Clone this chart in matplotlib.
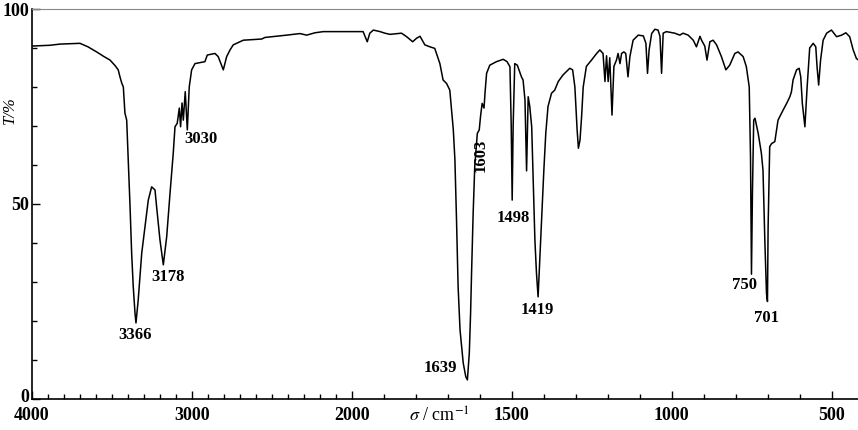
import numpy as np
import matplotlib
matplotlib.use("Agg")
import matplotlib.pyplot as plt
import matplotlib.transforms as mtransforms
from matplotlib.ticker import FixedLocator, MultipleLocator

plt.rcParams['font.family'] = ['Liberation Serif', 'DejaVu Serif']
plt.rcParams['mathtext.fontset'] = 'stix'

# wavenumber (cm-1) and transmittance (%)
wavenumber = [
    4000, 3887, 3825, 3762, 3700, 3650, 3596, 3550, 3512, 3481, 3461, 3450,
    3439, 3429, 3419, 3408, 3398, 3387, 3377, 3367, 3356, 3350, 3336, 3314,
    3294, 3273, 3252, 3231, 3221, 3200, 3179, 3158, 3137, 3117, 3106, 3092,
    3079, 3071, 3062, 3054, 3042, 3029, 3017, 3002, 2981, 2919, 2904, 2856,
    2836, 2804, 2783, 2762, 2742, 2679, 2564, 2544, 2408, 2325, 2283, 2231,
    2179, 2000, 1965, 1952, 1944, 1933, 1912, 1897, 1881, 1845, 1829, 1810,
    1798, 1787, 1772, 1756, 1741, 1725, 1715, 1704, 1694, 1683, 1678, 1673,
    1668, 1662, 1652, 1644, 1639, 1633, 1629, 1626, 1621, 1616, 1608, 1602,
    1598, 1593, 1587, 1584, 1579, 1569, 1548, 1527, 1515, 1506, 1502, 1499,
    1496, 1491, 1483, 1470, 1465, 1459, 1454, 1449, 1444, 1438, 1428, 1423,
    1418, 1407, 1400, 1394, 1387, 1376, 1366, 1355, 1340, 1319, 1310, 1303,
    1296, 1292, 1287, 1282, 1277, 1267, 1251, 1235, 1225, 1215, 1209, 1204,
    1199, 1194, 1187, 1181, 1173, 1168, 1162, 1157, 1150, 1144, 1137, 1131,
    1121, 1105, 1089, 1081, 1076, 1071, 1063, 1053, 1043, 1037, 1032, 1027,
    1017, 991, 975, 965, 949, 933, 923, 912, 907, 897, 890, 881,
    871, 860, 845, 831, 819, 803, 793, 777, 767, 758, 754, 751,
    748, 744, 740, 730, 720, 715, 709, 704, 701, 699, 694, 688,
    678, 668, 652, 641, 631, 626, 621, 610, 602, 597, 592, 584,
    577, 569, 558, 550, 546, 541, 535, 527, 516, 501, 485, 469,
    456, 444, 433, 423, 418,
]
transmittance = [
    90.5, 90.7, 91.0, 91.1, 91.2, 90.3, 89.0, 87.8, 86.9, 85.5, 84.4, 82.6,
    81.0, 80.0, 73.3, 71.5, 61.0, 49.3, 37.4, 28.8, 22.0, 19.5, 25.4, 37.4,
    44.0, 51.0, 54.4, 53.6, 49.3, 40.8, 34.4, 41.6, 52.8, 63.0, 69.8, 70.7,
    74.6, 69.8, 75.9, 71.5, 78.8, 69.0, 80.0, 84.4, 86.0, 86.5, 88.2, 88.6,
    87.8, 84.4, 87.8, 89.5, 90.8, 92.0, 92.3, 92.7, 93.3, 93.7, 93.3, 93.9,
    94.2, 94.2, 94.2, 91.6, 93.8, 94.6, 94.2, 93.8, 93.5, 93.8, 92.9, 91.6,
    92.5, 93.0, 90.8, 90.3, 89.9, 86.0, 81.8, 80.9, 79.2, 69.0, 61.3, 45.9,
    28.8, 17.7, 9.2, 5.7, 4.9, 11.8, 22.0, 32.2, 47.6, 59.6, 68.1, 69.0,
    72.4, 75.8, 74.6, 78.4, 83.5, 85.6, 86.5, 87.1, 86.5, 85.2, 70.0, 51.0,
    70.0, 86.0, 85.6, 82.6, 81.8, 76.7, 58.5, 77.5, 75.0, 69.8, 40.8, 32.2,
    26.2, 45.9, 58.7, 68.1, 75.0, 78.4, 79.2, 81.4, 83.1, 84.8, 84.4, 80.0,
    69.0, 64.3, 66.4, 72.4, 80.0, 85.3, 86.9, 88.6, 89.5, 88.6, 81.4, 88.0,
    81.4, 87.5, 72.8, 85.3, 86.9, 88.6, 86.0, 88.6, 89.0, 88.6, 82.6, 87.8,
    92.0, 93.3, 93.1, 91.2, 83.5, 89.5, 93.7, 94.8, 94.6, 93.0, 83.5, 93.8,
    94.2, 93.8, 93.3, 93.8, 93.3, 92.0, 90.3, 93.0, 92.0, 90.5, 86.9, 91.6,
    92.0, 90.8, 87.8, 84.4, 85.6, 88.6, 89.0, 87.8, 85.2, 80.0, 62.0, 32.0,
    52.8, 71.5, 72.0, 68.1, 63.0, 58.7, 40.0, 27.0, 25.0, 44.0, 64.7, 65.5,
    66.0, 71.5, 74.1, 75.8, 77.5, 78.8, 81.8, 84.4, 84.8, 82.6, 75.8, 69.8,
    80.0, 90.0, 91.2, 90.3, 85.2, 80.5, 86.9, 92.0, 93.8, 94.6, 92.9, 93.3,
    93.9, 92.9, 89.5, 87.3, 87.0,
]

# peak labels: text, x, y, rotation
peak_text = ["3366", "3178", "3030", "1603", "1639", "1498", "1419", "750", "701"]
peak_x = [3356, 3150, 2944, 1597, 1725, 1497, 1419, 772, 703]
peak_y = [16.4, 31.3, 66.7, 62.6, 7.9, 46.4, 22.8, 29.2, 20.8]
peak_rot = [0, 0, 0, 90, 0, 0, 0, 0, 0]


def fwd(x):
    x = np.asarray(x, dtype=float)
    return np.where(x > 2000, 2000 + (x - 2000) / 2.0, x)


def inv(v):
    v = np.asarray(v, dtype=float)
    return np.where(v > 2000, 2000 + (v - 2000) * 2.0, v)


fig = plt.figure(figsize=(8.58, 4.30), dpi=100)
ax = fig.add_axes([32 / 858, 31 / 430, 1 - 32 / 858, 390 / 430])
ax.set_xscale('function', functions=(fwd, inv))

ax.plot(wavenumber, transmittance, color='black', lw=1.1)

ax.set_xlim(4000, 418)
ax.set_ylim(0, 100)

ax.xaxis.set_major_locator(FixedLocator([4000, 3000, 2000, 1500, 1000, 500]))
ax.xaxis.set_minor_locator(FixedLocator(list(range(3900, 400, -100))))
ax.yaxis.set_major_locator(FixedLocator([0, 50, 100]))
ax.yaxis.set_minor_locator(MultipleLocator(10))

ax.tick_params(which='both', direction='in', width=1.0, top=False, right=False)
ax.tick_params(which='major', length=6, labelsize=13)
ax.tick_params(axis='x', which='major', pad=6)
ax.tick_params(axis='y', which='major', pad=2)
ax.tick_params(which='minor', length=3.5)
for lab in ax.get_xticklabels() + ax.get_yticklabels():
    lab.set_fontweight('bold')

# lift the "0" label a little so it clears "4000"
fig.canvas.draw()
ylabs = ax.get_yticklabels()
ylabs[0].set_transform(ylabs[0].get_transform() +
                       mtransforms.ScaledTranslation(0, 4 / 100, fig.dpi_scale_trans))

ax.spines['right'].set_visible(False)
ax.spines['top'].set_color('#888888')
ax.spines['left'].set_linewidth(1.2)
ax.spines['bottom'].set_linewidth(1.2)

for t, x, y, r in zip(peak_text, peak_x, peak_y, peak_rot):
    ax.text(x, y, t, ha='center', va='center', rotation=r,
            fontsize=12, fontweight='bold')

ax.text(-0.027, 0.74, 'T/%', transform=ax.transAxes, rotation=90,
        ha='center', va='center', fontsize=12, style='italic')
ax.text(1725, -0.045, r'$\sigma$ / cm$^{-1}$', transform=ax.get_xaxis_transform(),
        ha='center', va='center', fontsize=13)

fig.savefig('out.png', dpi=100)
